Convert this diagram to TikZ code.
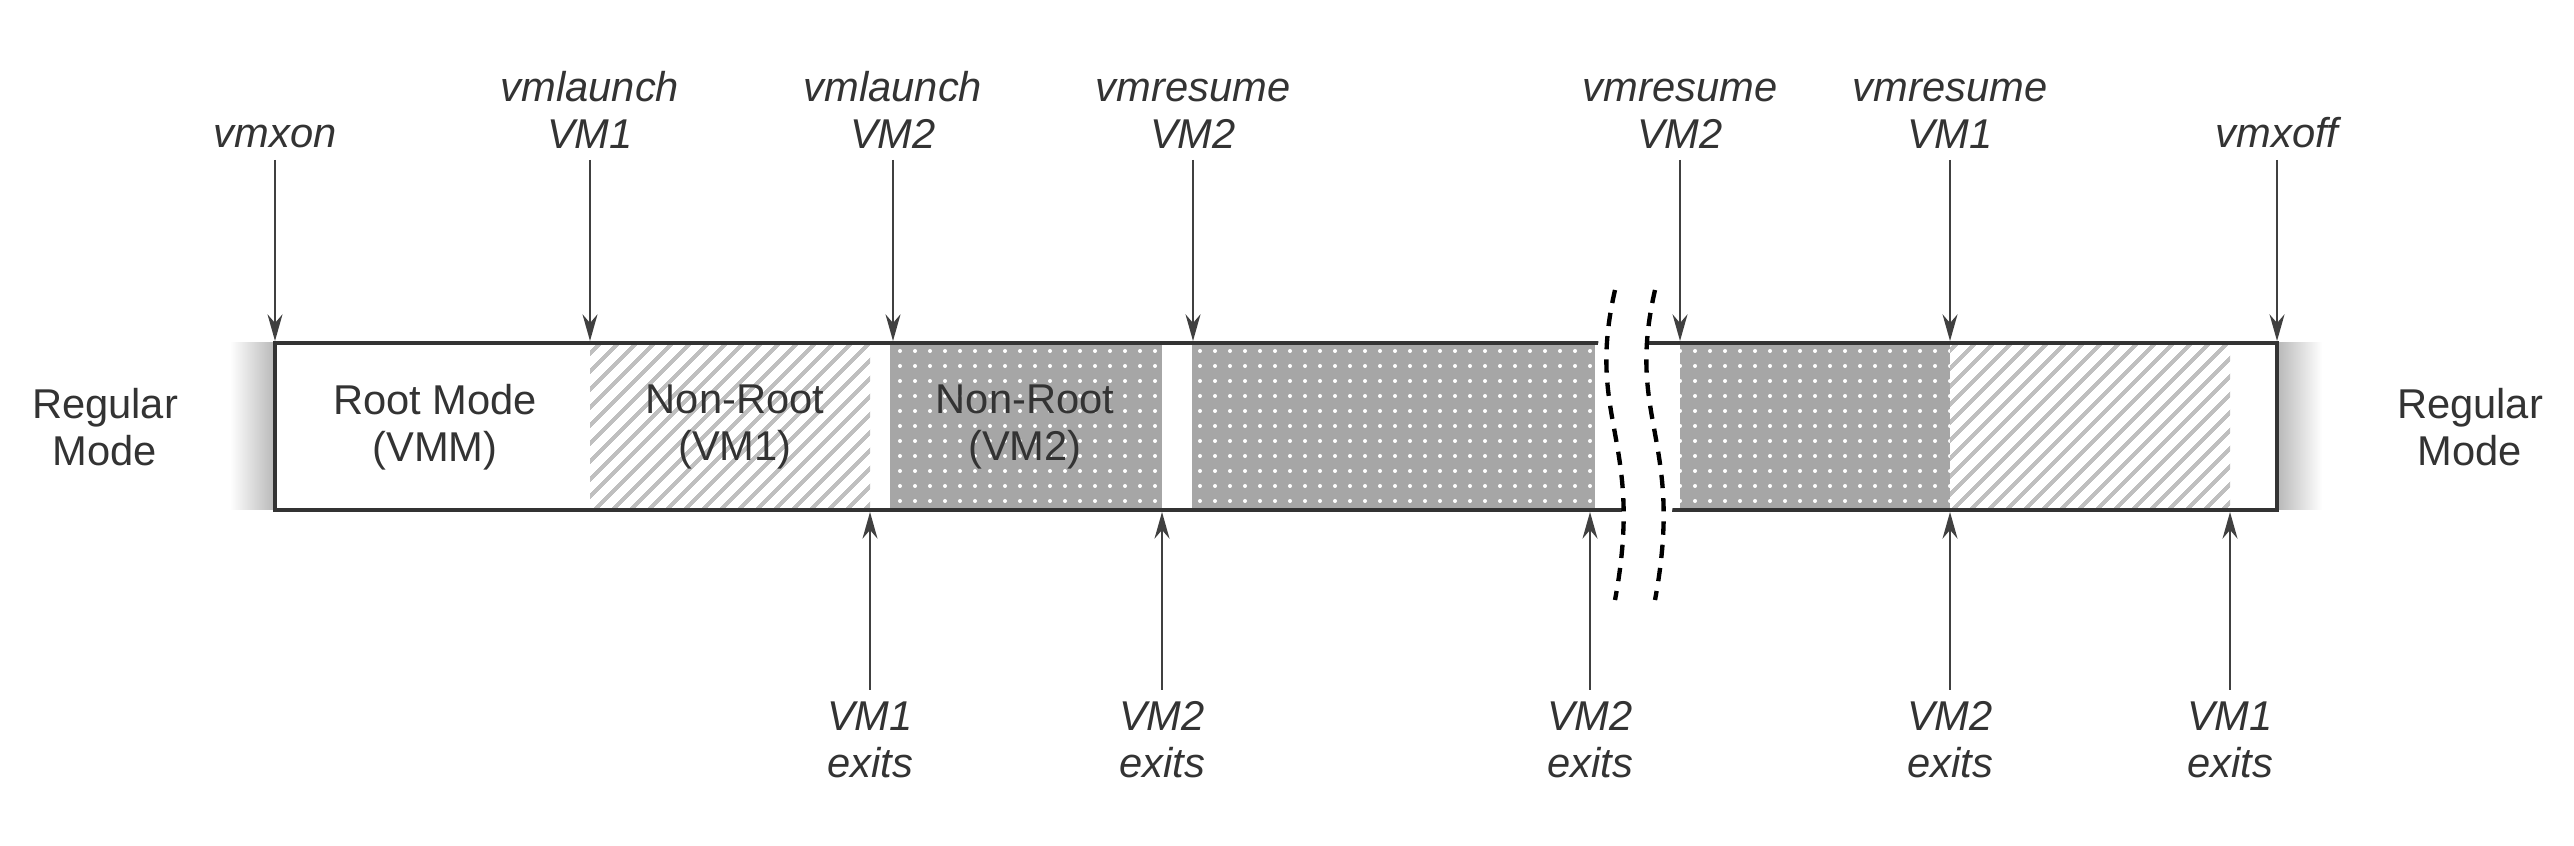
\documentclass[tikz,border=0pt]{standalone}
\usepackage{fontspec}
\setmainfont{Liberation Sans}
\usetikzlibrary{patterns.meta,arrows.meta,decorations.pathmorphing}
\begin{document}
\begin{tikzpicture}[x=0.3pt,y=-0.3pt,
  lab/.style={align=center,text=black!80,font=\fontsize{12.5}{14}\selectfont\itshape},
  txt/.style={align=center,text=black!80,font=\fontsize{12.5}{14}\selectfont},
  arr/.style={draw=black!75,line width=0.6pt,-{Stealth[length=8pt,width=4.5pt]}},
  hatch/.style={pattern={Lines[angle=45,distance=4pt,line width=1.3pt]},pattern color=black!25},
  dots/.style={fill=black!35,postaction={pattern={Dots[radius=0.6pt,distance=4.5pt]},pattern color=white}},
  brk/.style={draw=black,line width=1.3pt,dash pattern=on 4pt off 3pt}]
\useasboundingbox (0,0) rectangle (2574,846);
% shadows
\shade[left color=white,right color=black!28] (230,343) rectangle (275,510);
\shade[left color=black!28,right color=white] (2277,343) rectangle (2322,510);
% segments
\fill[white] (275,343) rectangle (2277,510);
\path[hatch] (590,345) rectangle (870,508);
\path[dots] (890,345) rectangle (1162,508);
\path[dots] (1192,345) rectangle (1595,508);
\path[dots] (1680,345) rectangle (1950,508);
\path[hatch] (1950,345) rectangle (2230,508);
% box
\draw[black!80,line width=1.2pt] (275,343) rectangle (2277,510);
% break
\fill[white] (1600,330) .. controls (1585,420) and (1640,440) .. (1620,520) -- (1670,520) .. controls (1690,440) and (1635,420) .. (1650,330) -- cycle;
\draw[brk] (1615,290) .. controls (1585,420) and (1645,440) .. (1615,600);
\draw[brk] (1655,290) .. controls (1625,420) and (1685,440) .. (1655,600);
% texts
\node[txt] (rl) at (105,427) {Regular\\Mode};
\node[txt] (rr) at (2470,427) {Regular\\Mode};
\node[txt] (root) at (435,427) {Root Mode\\(VMM)};
\node[txt] (nr1) at (735,427) {Non-Root\\(VM1)};
\node[txt] (nr2) at (1025,427) {Non-Root\\(VM2)};
% top labels
\foreach \n/\x/\t in {t1/275/vmxon,t2/590/{vmlaunch\\VM1},t3/893/{vmlaunch\\VM2},t4/1193/{vmresume\\VM2},t5/1680/{vmresume\\VM2},t6/1950/{vmresume\\VM1},t7/2277/vmxoff}{
  \node[lab,anchor=south] (\n) at (\x,160) {\t};
  \coordinate (\n e) at (\x,341);
  \draw[arr] (\n.south) -- (\n e);
}
% bottom labels
\foreach \n/\x/\t in {b1/870/VM1,b2/1162/VM2,b3/1590/VM2,b4/1950/VM2,b5/2230/VM1}{
  \node[lab,anchor=north] (\n) at (\x,690) {\t\\exits};
  \coordinate (\n e) at (\x,512);
  \draw[arr] (\n.north) -- (\n e);
}
\end{tikzpicture}
\end{document}
